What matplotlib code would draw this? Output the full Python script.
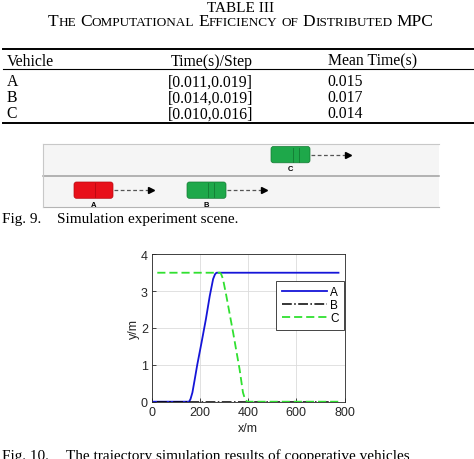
import matplotlib
matplotlib.use("Agg")
import matplotlib.pyplot as plt
from matplotlib.patches import FancyBboxPatch, Rectangle

# Table III data
table_columns = ["Vehicle", "Time(s)/Step", "Mean Time(s)"]
vehicles = ["A", "B", "C"]
step_ranges = ["[0.011,0.019]", "[0.014,0.019]", "[0.010,0.016]"]
mean_times = ["0.015", "0.017", "0.014"]

# Fig. 10 trajectories (x/m, y/m)
a_x = [0, 154, 160, 168, 178, 188, 206, 224, 240, 254, 262, 268, 775]
a_y = [0, 0, 0.07, 0.25, 0.62, 1.0, 1.61, 2.24, 2.87, 3.33, 3.46, 3.5, 3.5]
b_x = [22, 775]
b_y = [0, 0]
c_x = [22, 282, 287, 295, 309, 337, 364, 378, 386, 395, 775]
c_y = [3.5, 3.5, 3.47, 3.33, 2.87, 1.88, 0.88, 0.25, 0.08, 0.0, 0.0]
x_ticks = [0, 200, 400, 600, 800]
y_ticks = [0, 1, 2, 3, 4]

SERIF = "Liberation Serif"
SANS = "Liberation Sans"

fig = plt.figure(figsize=(4.74, 4.60), dpi=100)
page = fig.add_axes([0, 0, 1, 1])
page.set_xlim(0, 474)
page.set_ylim(460, 0)
page.axis("off")

# --- Table ---
page.text(240.5, 11.7, "TABLE III", ha="center", va="baseline", fontsize=11, family=SERIF)

# small caps title, placed piece by piece
pieces = [("T", 12.5), ("HE", 9.5), (" ", 0), ("C", 12.5), ("OMPUTATIONAL", 9.5), (" ", 0),
          ("E", 12.5), ("FFICIENCY", 9.5), (" ", 0), ("OF", 9.5), (" ", 0),
          ("D", 12.5), ("ISTRIBUTED", 9.5), (" ", 0), ("MPC", 12.5)]
title_texts = [page.text(0, 25.7, s, va="baseline", fontsize=max(fs, 1), family=SERIF)
               for s, fs in pieces]
fig.canvas.draw()
renderer = fig.canvas.get_renderer()
widths = []
for t, (s, fs) in zip(title_texts, pieces):
    if s == " ":
        widths.append(4.0)
    else:
        widths.append(t.get_window_extent(renderer).width)
x = 240.5 - sum(widths) / 2
for t, w in zip(title_texts, widths):
    t.set_x(x)
    x += w

page.plot([2.7, 474], [50, 50], color="black", lw=1.4)
page.plot([2.7, 474], [70.3, 70.3], color="black", lw=0.8)
page.plot([2.7, 474], [124.3, 124.3], color="black", lw=1.4)

col_x = [6.7, 168.3, 327.7]
page.text(col_x[0], 65.5, table_columns[0], va="baseline", fontsize=11.3, family=SERIF)
page.text(171, 65.5, table_columns[1], va="baseline", fontsize=11.3, family=SERIF)
page.text(col_x[2], 65.5, table_columns[2], va="baseline", fontsize=11.3, family=SERIF)
for i, (v, r, m) in enumerate(zip(vehicles, step_ranges, mean_times)):
    yb = 86.5 + i * 16
    page.text(col_x[0], yb, v, va="baseline", fontsize=11.3, family=SERIF)
    page.text(col_x[1], yb, r, va="baseline", fontsize=11.3, family=SERIF)
    page.text(col_x[2], yb, m, va="baseline", fontsize=11.3, family=SERIF)

# --- Fig. 9 scene ---
page.add_patch(Rectangle((42.7, 145), 439 - 42.7, 208 - 145, facecolor="#f5f5f5", edgecolor="none"))
page.plot([42.7, 439], [145, 145], color="#c8c8c8", lw=0.8)
page.plot([42.7, 439], [176.5, 176.5], color="#a0a0a0", lw=1.1)
page.plot([42.7, 439], [208, 208], color="#b4b4b4", lw=0.8)
page.plot([42.7, 42.7], [145, 208], color="#c8c8c8", lw=0.8)

cars = [("A", 74, 183, "#e8101a", "#b80810", [21]),
        ("B", 187, 183, "#1ea84a", "#137a33", [21, 27]),
        ("C", 271, 147.5, "#1ea84a", "#137a33", [21.7, 28])]
for name, cx, cy, fc, lc, splits in cars:
    page.add_patch(FancyBboxPatch((cx + 2.5, cy + 2.5), 34, 11.3,
                                  boxstyle="round,pad=2.5", facecolor=fc, edgecolor=lc, lw=0.5))
    for s in splits:
        page.plot([cx + s, cx + s], [cy + 1, cy + 15.3], color=lc, lw=0.6)
    ym = cy + 8.2
    page.plot([cx + 40, cx + 76], [ym, ym], color="#555555", lw=0.9, ls=(0, (3, 2)))
    page.plot([cx + 77], [ym], marker=">", color="black", ms=4.5, mec="black")
    page.text(cx + 19.5, cy + 22.5, name, ha="center", va="center", fontsize=5.5,
              family=SANS, fontweight="bold")

page.text(2, 223, "Fig. 9.", va="baseline", fontsize=11, family=SERIF)
page.text(57, 223, "Simulation experiment scene.", va="baseline", fontsize=11, family=SERIF)

# --- Fig. 10 chart ---
ax = fig.add_axes([152 / 474, 1 - 402.7 / 460, 192.5 / 474, 147.4 / 460])
ax.plot(a_x, a_y, color="#1515d8", lw=1.3, label="A")
ax.plot(b_x, b_y, color="black", lw=1.1, ls="-.", label="B")
ax.plot(c_x, c_y, color="#30e030", lw=1.3, dashes=(4.5, 2.2), label="C")
ax.set_xlim(0, 800)
ax.set_ylim(0, 4)
ax.set_xticks(x_ticks)
ax.set_yticks(y_ticks)
ax.grid(True, color="#dcdcdc", lw=0.6)
ax.set_axisbelow(True)
ax.tick_params(direction="in", length=3, width=0.6, colors="#262626", labelsize=9)
ax.tick_params(axis="x", pad=3)
ax.tick_params(axis="y", pad=3)
for lab in ax.get_xticklabels() + ax.get_yticklabels():
    lab.set_family(SANS)
for sp in ax.spines.values():
    sp.set_color("#262626")
    sp.set_linewidth(0.6)
ax.set_xlabel("x/m", fontsize=9, family=SANS, color="#262626")
ax.set_ylabel("y/m", fontsize=9, family=SANS, color="#262626")
ax.xaxis.set_label_coords(0.5, -0.135)
ax.yaxis.set_label_coords(-0.065, 0.5)
leg = ax.legend(loc="upper right", bbox_to_anchor=(0.997, 0.821), borderaxespad=0,
                fancybox=False, edgecolor="#262626", framealpha=1, handlelength=3.8,
                handletextpad=0.3, labelspacing=0.1, borderpad=0.45,
                prop={"family": SANS, "size": 8.5})
leg.get_frame().set_linewidth(0.6)

page.text(2, 460.5, "Fig. 10.", va="baseline", fontsize=11, family=SERIF)
page.text(66, 460.5, "The trajectory simulation results of cooperative vehicles", va="baseline",
          fontsize=11, family=SERIF)

fig.savefig("out.png", dpi=100, facecolor="white")
